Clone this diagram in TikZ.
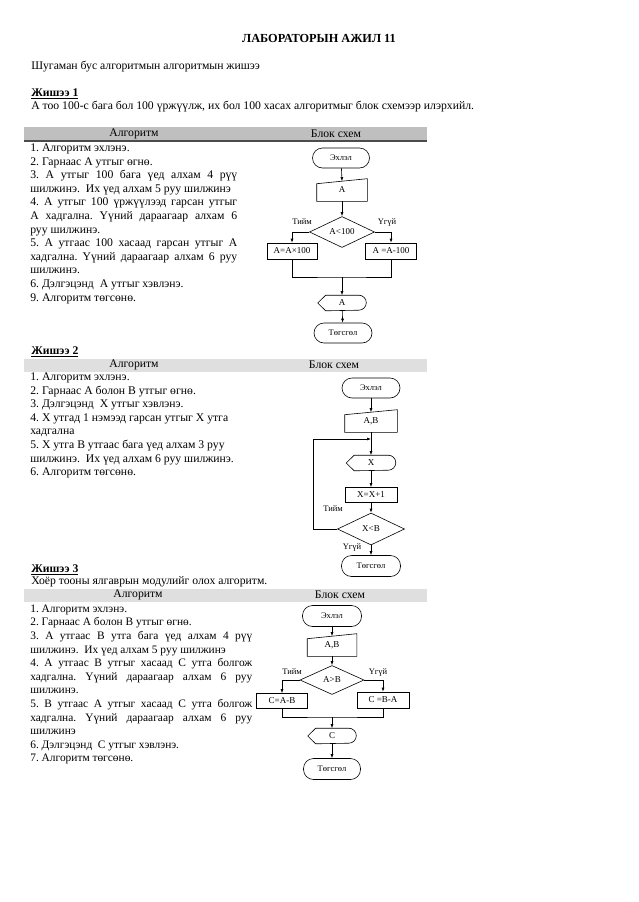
\documentclass[tikz,border=0pt]{standalone}
\usepackage{fontspec}
\setmainfont{Liberation Serif}
\usetikzlibrary{shapes.geometric,arrows.meta,calc}
\frenchspacing

\newcommand{\jl}[2]{\makebox[#1][s]{#2}}
\newcommand{\inshape}[1]{\draw (#1.south west) -- (#1.south east) -- (#1.north east) -- ([yshift=-5pt]#1.north west) -- cycle;}
\newcommand{\dispshape}[1]{\draw ([xshift=8pt]#1.north west) -- ([xshift=-7.5pt]#1.north east) arc[start angle=90,end angle=-90,radius=7.5pt] -- ([xshift=8pt]#1.south west) -- (#1.west) -- cycle;}

\tikzset{
  termbox/.style={draw, rounded corners=10pt, minimum width=57pt, minimum height=20pt, inner sep=1pt, font=\fontsize{8.5}{10}\selectfont},
  procbox/.style={draw, minimum width=50pt, minimum height=16pt, inner sep=1pt, font=\fontsize{9}{10}\selectfont},
  inbox/.style={minimum width=50pt, minimum height=22pt, inner sep=1pt, font=\fontsize{9}{10}\selectfont},
  dispbox/.style={minimum width=48pt, minimum height=15pt, inner sep=1pt, font=\fontsize{9}{10}\selectfont},
  cond/.style={draw, diamond, aspect=2, inner sep=0pt, minimum width=65pt, minimum height=31pt, font=\fontsize{9}{10}\selectfont},
  lbl/.style={font=\fontsize{8.5}{10}\selectfont},
  arr/.style={-{Latex[length=4pt,width=3pt]}},
  hdr/.style={font=\fontsize{11.7}{14}\selectfont},
  steps/.style={anchor=north west, align=left, inner sep=0pt, font=\fontsize{11.7}{13.6}\selectfont},
}

\begin{document}
\begin{tikzpicture}[x=1pt,y=-1pt,line width=0.6pt]
    \fill[white] (0,0) rectangle (638,902);
    \useasboundingbox (0,0) rectangle (638,902);

    % heading
    \node[font=\bfseries\fontsize{12.3}{14}\selectfont] (title) at (319,38) {ЛАБОРАТОРЫН АЖИЛ 11};
    \node[hdr,anchor=west,inner sep=0pt] (intro) at (31,67) {Шугаман бус алгоритмын алгоритмын жишээ};

    % example 1
    \node[hdr,anchor=west,inner sep=0pt] (ex1) at (31,94) {\underline{\textbf{Жишээ 1}}};
    \node[hdr,anchor=west,inner sep=0pt] (task1) at (31,107) {А тоо 100-с бага бол 100 үржүүлж, их бол 100 хасах алгоритмыг блок схемээр илэрхийл.};
    \fill[gray!50] (24,127) rectangle (427,141);
    \draw[line width=1.5pt,black!70] (24,141) -- (427,141);
    \node[hdr] (h1a) at (134,134) {Алгоритм};
    \node[hdr] (h1b) at (336,134) {Блок схем};
    \node[steps] (alg1) at (30,143.5) {1. Алгоритм эхлэнэ.\\
        2. Гарнаас А утгыг өгнө.\\
        \jl{207pt}{3. А утгыг 100 бага үед алхам 4 рүү}\\
        шилжинэ.\ \ Их үед алхам 5 руу шилжинэ\\
        \jl{207pt}{4. А утгыг 100 үржүүлээд гарсан утгыг}\\
        \jl{207pt}{А хадгална. Үүний дараагаар алхам 6}\\
        руу шилжинэ.\\
        \jl{207pt}{5. А утгаас 100 хасаад гарсан утгыг А}\\
        \jl{207pt}{хадгална. Үүний дараагаар алхам 6 руу}\\
        шилжинэ.\\
        6. Дэлгэцэнд\ \ А утгыг хэвлэнэ.\\
        9. Алгоритм төгсөнө.};

    \node[termbox] (s1) at (341,158) {Эхлэл};
    \node[inbox] (in1) at (342,190) {A};
    \inshape{in1}
    \node[cond] (d1) at (342,232) {A<100};
    \node[procbox] (p1a) at (292,251) {A=A×100};
    \node[procbox,minimum width=51pt] (p1b) at (391,251) {A =A-100};
    \coordinate (m1) at (342,277);
    \node[dispbox] (o1) at (342,303) {A};
    \dispshape{o1}
    \node[termbox,minimum width=58pt] (e1) at (343,333) {Төгсгөл};
    \node[lbl] (y1) at (302,222) {Тийм};
    \node[lbl] (n1) at (387,222) {Үгүй};
    \draw[arr] (s1) -- ([yshift=-2.5pt]in1.north);
    \draw[arr] (in1) -- (d1);
    \draw[arr] (d1.west) -| (p1a.north);
    \draw[arr] (d1.east) -| (p1b.north);
    \draw (p1a.south) |- (m1) -| (p1b.south);
    \draw[arr] (m1) -- (o1);
    \draw[arr] (o1) -- (e1);

    % example 2
    \node[hdr,anchor=west,inner sep=0pt] (ex2) at (31,352) {\underline{\textbf{Жишээ 2}}};
    \fill[gray!25] (24,359) rectangle (427,372);
    \node[hdr] (h2a) at (134,365) {Алгоритм};
    \node[hdr] (h2b) at (334,365) {Блок схем};
    \node[steps] (alg2) at (30,372.5) {1. Алгоритм эхлэнэ.\\
        2. Гарнаас А болон В утгыг өгнө.\\
        3. Дэлгэцэнд\ \ X утгыг хэвлэнэ.\\
        4. X утгад 1 нэмээд гарсан утгыг X утга\\
        хадгална\\
        5. X утга В утгаас бага үед алхам 3 руу\\
        шилжинэ.\ \ Их үед алхам 6 руу шилжинэ.\\
        6. Алгоритм төгсөнө.};

    \node[termbox,minimum width=58pt] (s2) at (371,388) {Эхлэл};
    \node[inbox,minimum width=52pt] (in2) at (371,421) {A,B};
    \inshape{in2}
    \coordinate (j2) at (371,439);
    \coordinate (lp2) at (313,439);
    \node[dispbox,minimum width=49pt] (x2) at (371,463) {X};
    \dispshape{x2}
    \node[procbox,minimum width=52pt,minimum height=15pt] (p2) at (371,495) {X=X+1};
    \node[cond,minimum width=67pt,minimum height=32pt] (d2) at (371,529) {X<B};
    \node[termbox,minimum width=59pt,minimum height=21pt] (e2) at (371,566) {Төгсгөл};
    \node[lbl] (y2) at (333,509) {Тийм};
    \node[lbl] (n2) at (352,547) {Үгүй};
    \draw[arr] (s2) -- ([yshift=-2.5pt]in2.north);
    \draw[arr] (in2) -- (x2);
    \draw[arr] (d2.west) -| (lp2) -- (j2);
    \draw[arr] (x2) -- (p2);
    \draw[arr] (p2) -- (d2);
    \draw[arr] (d2) -- (e2);

    % example 3
    \node[hdr,anchor=west,inner sep=0pt] (ex3) at (31,570) {\underline{\textbf{Жишээ 3}}};
    \node[hdr,anchor=west,inner sep=0pt] (task3) at (31,582) {Хоёр тооны ялгаврын модулийг олох алгоритм.};
    \fill[gray!25] (24,589) rectangle (427,602);
    \node[hdr] (h3a) at (138,595) {Алгоритм};
    \node[hdr] (h3b) at (340,595) {Блок схем};
    \node[steps,font=\fontsize{11.4}{13.6}\selectfont] (alg3) at (30,604.5) {1. Алгоритм эхлэнэ.\\
        2. Гарнаас А болон В утгыг өгнө.\\
        \jl{222pt}{3. А утгаас В утга бага үед алхам 4 рүү}\\
        шилжинэ.\ \ Их үед алхам 5 руу шилжинэ\\
        \jl{222pt}{4. А утгаас В утгыг хасаад С утга болгож}\\
        \jl{222pt}{хадгална. Үүний дараагаар алхам 6 руу}\\
        шилжинэ.\\
        \jl{222pt}{5. В утгаас А утгыг хасаад С утга болгож}\\
        \jl{222pt}{хадгална. Үүний дараагаар алхам 6 руу}\\
        шилжинэ\\
        6. Дэлгэцэнд\ \ С утгыг хэвлэнэ.\\
        7. Алгоритм төгсөнө.};

    \node[termbox,minimum width=59pt,minimum height=21pt] (s3) at (332,616) {Эхлэл};
    \node[inbox,minimum width=49pt] (in3) at (332,645) {A,B};
    \inshape{in3}
    \node[cond,minimum width=64pt,minimum height=29pt] (d3) at (332,680) {A>B};
    \node[procbox,minimum width=51pt,minimum height=15pt] (p3a) at (282,701) {C=A-B};
    \node[procbox,minimum width=52pt] (p3b) at (383,700) {C =B-A};
    \coordinate (m3) at (332,717);
    \node[dispbox] (o3) at (332,736) {C};
    \dispshape{o3}
    \node[termbox,minimum width=57pt,minimum height=21pt] (e3) at (332,769) {Төгсгөл};
    \node[lbl] (y3) at (292,672) {Тийм};
    \node[lbl] (n3) at (378,672) {Үгүй};
    \draw[arr] (s3) -- ([yshift=-2.5pt]in3.north);
    \draw[arr] (in3) -- (d3);
    \draw[arr] (d3.west) -| (p3a.north);
    \draw[arr] (d3.east) -| (p3b.north);
    \draw (p3a.south) |- (m3) -| (p3b.south);
    \draw[arr] (m3) -- (o3);
    \draw[arr] (o3) -- (e3);
\end{tikzpicture}
\end{document}
